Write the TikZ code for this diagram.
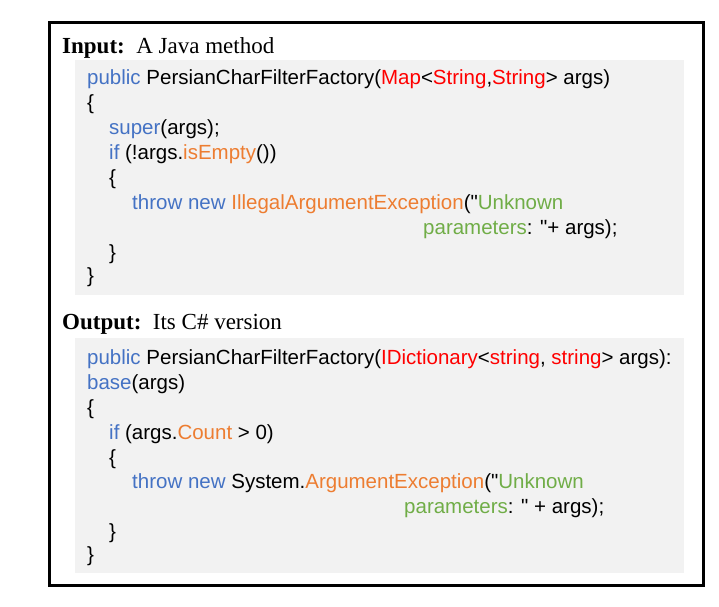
\documentclass[tikz,border=0pt]{standalone}
\usepackage{fontspec}
\setmainfont{Liberation Serif}
\newfontfamily\codefont{Liberation Sans}
\definecolor{kwb}{RGB}{68,114,196}
\definecolor{kwr}{RGB}{255,0,0}
\definecolor{kwo}{RGB}{237,125,49}
\definecolor{kwg}{RGB}{112,173,71}
\definecolor{bg}{RGB}{242,242,242}
\newcommand{\B}[1]{\textcolor{kwb}{#1}}
\newcommand{\R}[1]{\textcolor{kwr}{#1}}
\newcommand{\Or}[1]{\textcolor{kwo}{#1}}
\newcommand{\G}[1]{\textcolor{kwg}{#1}}
\begin{document}
\begin{tikzpicture}[x=1pt,y=-1pt,
  code/.style={anchor=base west,inner sep=0pt,font=\codefont\fontsize{20.5}{22}\selectfont},
  lbl/.style={anchor=base west,inner sep=0pt,font=\fontsize{23}{25}\selectfont}]
\useasboundingbox (0,0) rectangle (719,606);
\draw[line width=3pt] (49,22) rectangle (703,585);
\fill[bg] (75,60) rectangle (684,295);
\fill[bg] (75,338) rectangle (684,573);
\node[lbl] (in) at (62,53) {\textbf{Input:}\ \ A Java method};
\node[code] (a1) at (87,84) {\B{public} PersianCharFilterFactory(\R{Map}<\R{String},\R{String}> args)};
\node[code] (a2) at (87,109) {\{};
\node[code] (a3) at (109,134) {\B{super}(args);};
\node[code] (a4) at (109,159) {\B{if} (!args.\Or{isEmpty}())};
\node[code] (a5) at (109,184) {\{};
\node[code] (a6) at (132,209) {\B{throw} \B{new} \Or{IllegalArgumentException}("\G{Unknown}};
\node[code] (a7) at (423,234) {\G{parameters}: "+ args);};
\node[code] (a8) at (109,259) {\}};
\node[code] (a9) at (87,282) {\}};
\node[lbl] (out) at (62,329) {\textbf{Output:}\ \ Its C\# version};
\node[code] (b1) at (87,364) {\B{public} PersianCharFilterFactory(\R{IDictionary}<\R{string}, \R{string}> args):};
\node[code] (b2) at (87,389) {\B{base}(args)};
\node[code] (b3) at (87,414) {\{};
\node[code] (b4) at (109,439) {\B{if} (args.\Or{Count} > 0)};
\node[code] (b5) at (109,464) {\{};
\node[code] (b6) at (132,488) {\B{throw} \B{new} System.\Or{ArgumentException}("\G{Unknown}};
\node[code] (b7) at (404,513) {\G{parameters}: " + args);};
\node[code] (b8) at (109,538) {\}};
\node[code] (b9) at (87,561) {\}};
\end{tikzpicture}
\end{document}
